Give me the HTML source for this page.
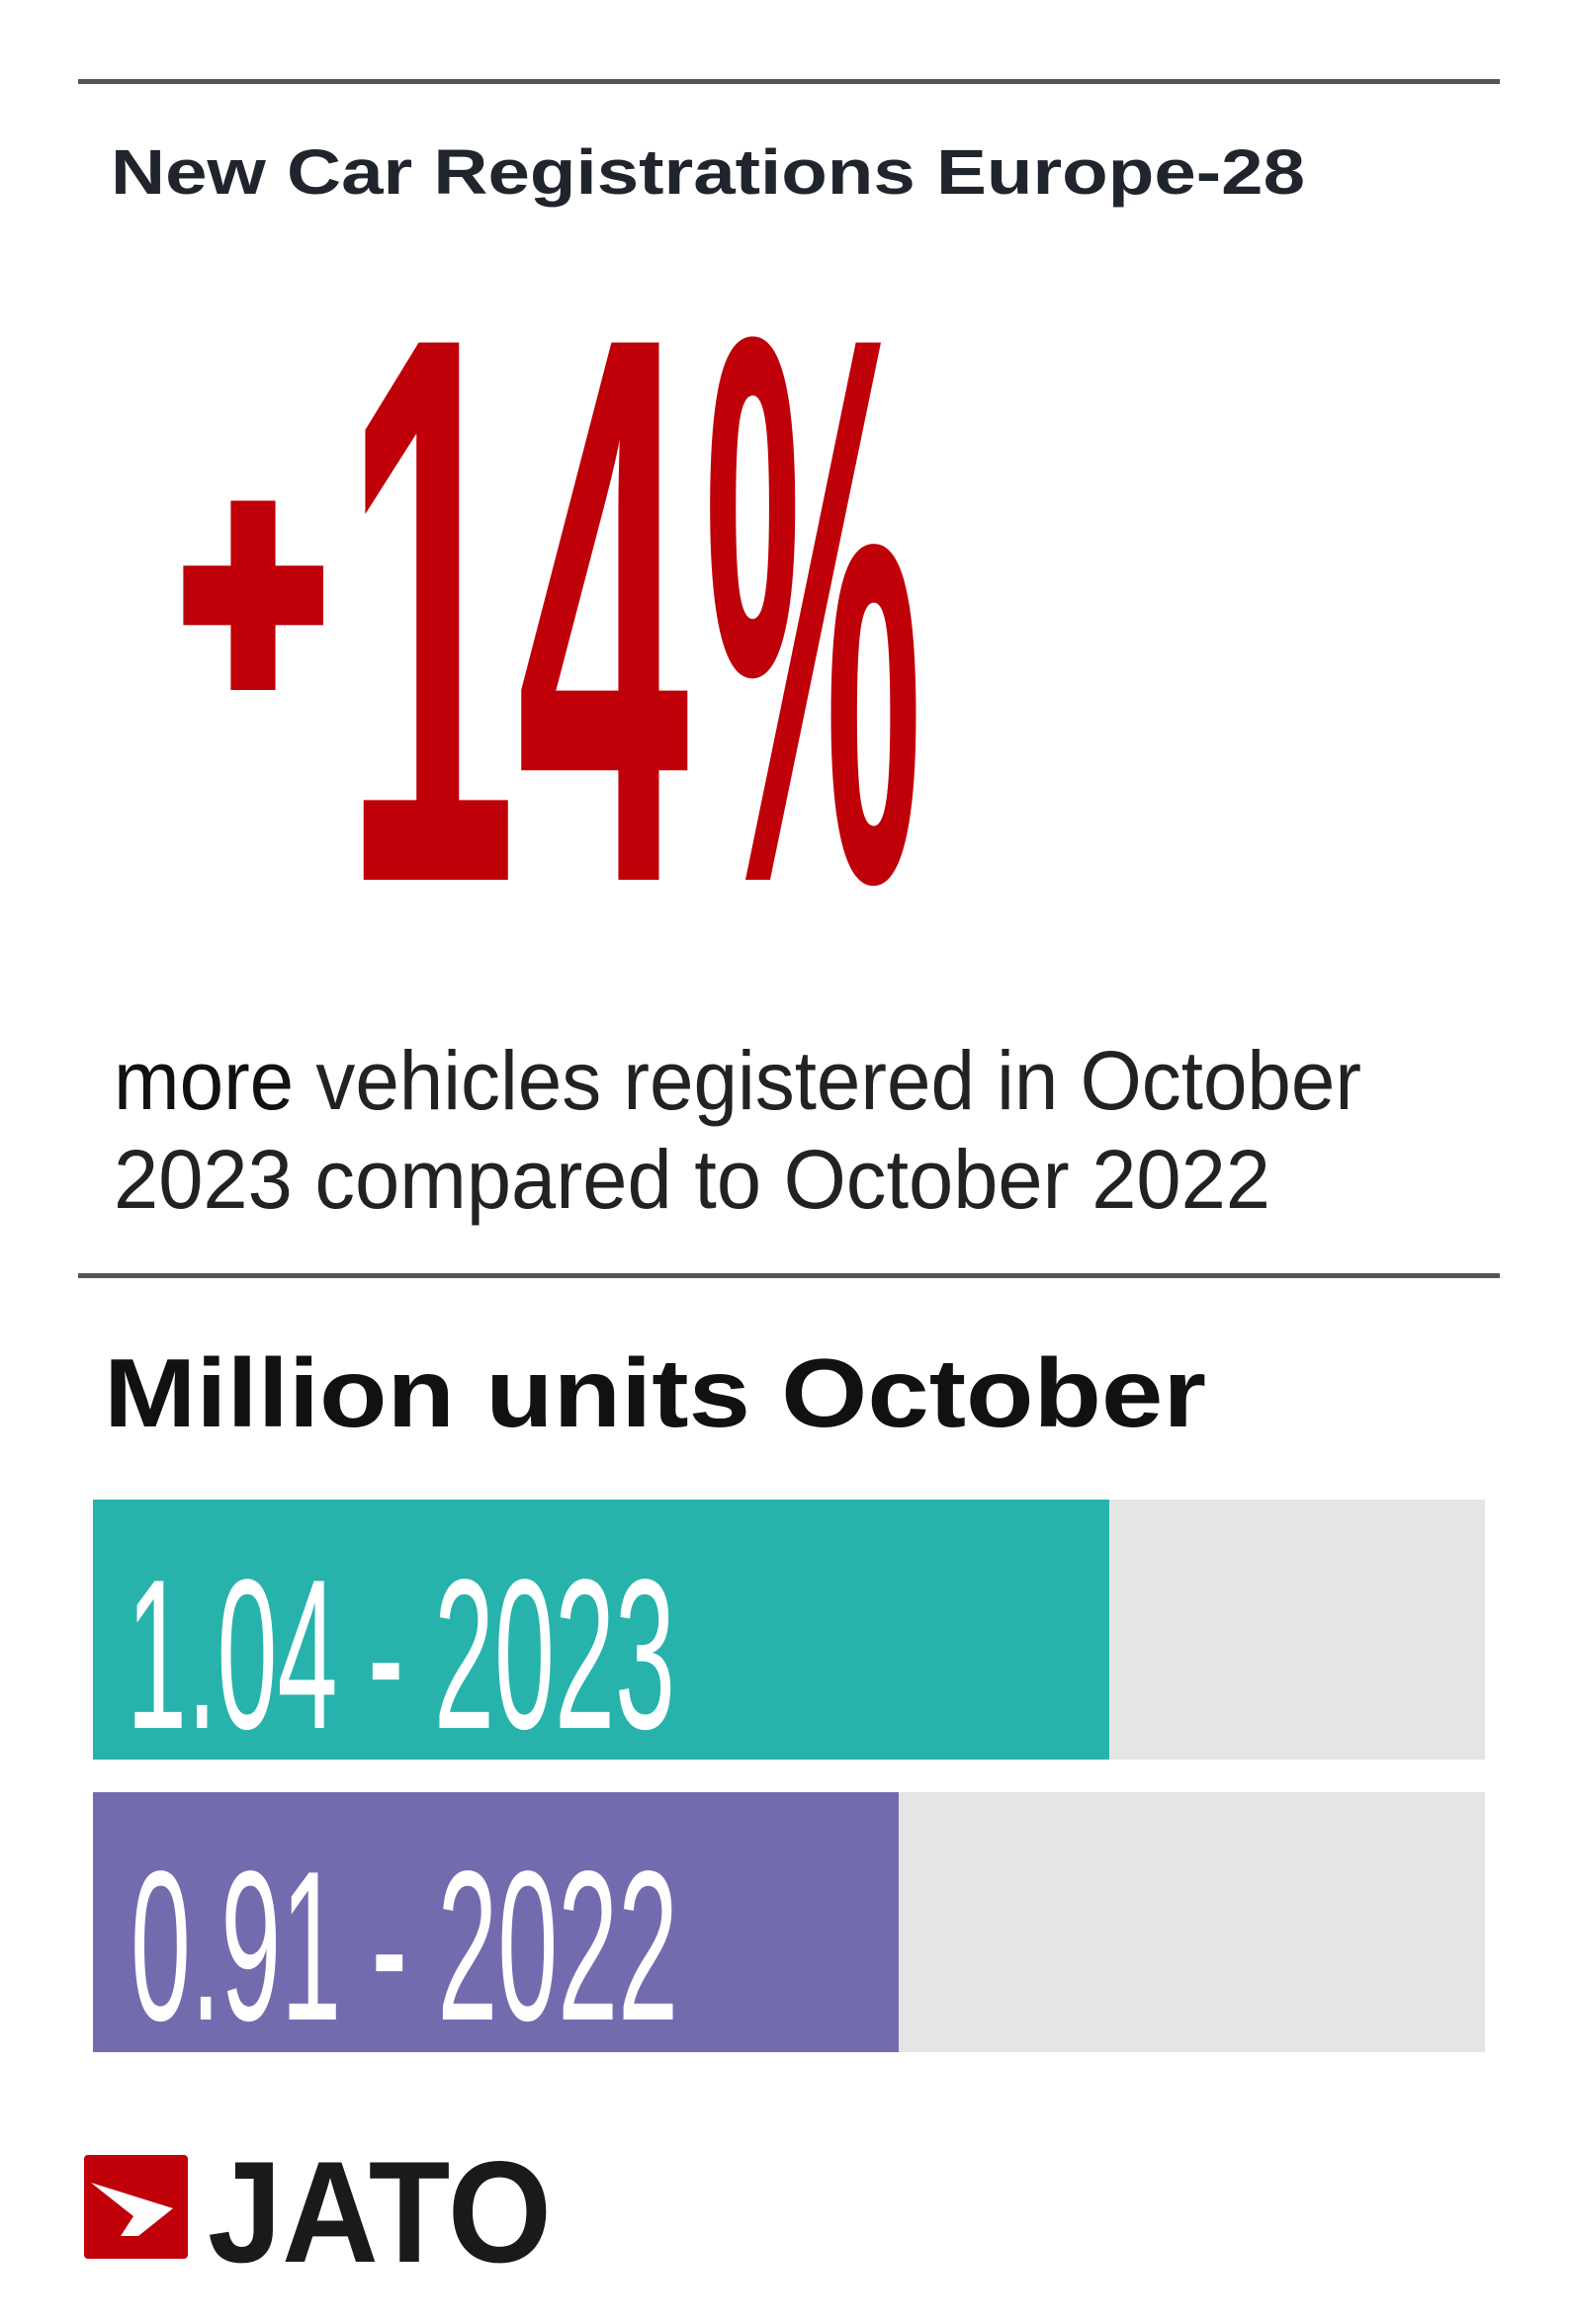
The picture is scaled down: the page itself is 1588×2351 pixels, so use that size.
<!DOCTYPE html>
<html><head><meta charset="utf-8"><style>
html,body{margin:0;padding:0;background:#fff;}
svg{display:block;}
</style></head><body>
<svg width="1588" height="2351" viewBox="0 0 1588 2351" xmlns="http://www.w3.org/2000/svg">
<rect x="0" y="0" width="1588" height="2351" fill="#fff"/>
<rect x="79" y="80" width="1438" height="5" fill="#555"/>
<text x="112" y="196" font-family="Liberation Sans, sans-serif" font-weight="bold" font-size="64" fill="#20242c" textLength="1208" lengthAdjust="spacingAndGlyphs">New Car Registrations Europe-28</text>
<text x="184" y="712" font-family="Liberation Sans, sans-serif" font-weight="bold" font-size="330" fill="#c00008" stroke="#c00008" stroke-width="24" textLength="144" lengthAdjust="spacingAndGlyphs">+</text>
<text x="348" y="890" font-family="Liberation Sans, sans-serif" font-weight="bold" font-size="790" fill="#c00008" textLength="349" lengthAdjust="spacingAndGlyphs">14</text>
<text x="712" y="890" font-family="Liberation Sans, sans-serif" font-weight="bold" font-size="790" fill="#c00008" textLength="221" lengthAdjust="spacingAndGlyphs">%</text>
<text x="115" y="1122" font-family="Liberation Sans, sans-serif" font-size="84" fill="#222" textLength="1262" lengthAdjust="spacingAndGlyphs"><tspan fill="#111">more</tspan> vehicles registered in October</text>
<text x="115" y="1222" font-family="Liberation Sans, sans-serif" font-size="84" fill="#222" textLength="1170" lengthAdjust="spacingAndGlyphs">2023 compared to October 2022</text>
<rect x="79" y="1288" width="1438" height="5" fill="#555"/>
<text x="105" y="1443" font-family="Liberation Sans, sans-serif" font-weight="bold" font-size="98" fill="#111" textLength="1115" lengthAdjust="spacingAndGlyphs">Million units October</text>
<rect x="94" y="1517" width="1408" height="263" fill="#e6e5e6"/>
<rect x="94" y="1517" width="1028" height="263" fill="#27b3ac"/>
<text x="128" y="1748" font-family="Liberation Sans, sans-serif" font-size="216" fill="#fff" textLength="555" lengthAdjust="spacingAndGlyphs">1.04 - 2023</text>
<rect x="94" y="1813" width="1408" height="263" fill="#e6e5e6"/>
<rect x="94" y="1813" width="815" height="263" fill="#726caf"/>
<text x="132" y="2043" font-family="Liberation Sans, sans-serif" font-size="216" fill="#fff" textLength="554" lengthAdjust="spacingAndGlyphs">0.91 - 2022</text>
<rect x="85" y="2180" width="105" height="105" rx="4" fill="#c00008"/>
<polygon points="92,2208 175,2234 140,2262 122,2262 135,2242" fill="#fff"/>
<text x="210" y="2288" font-family="Liberation Sans, sans-serif" font-weight="bold" font-size="146" fill="#1a1a1a" textLength="348" lengthAdjust="spacingAndGlyphs">JATO</text>
</svg>
</body></html>
